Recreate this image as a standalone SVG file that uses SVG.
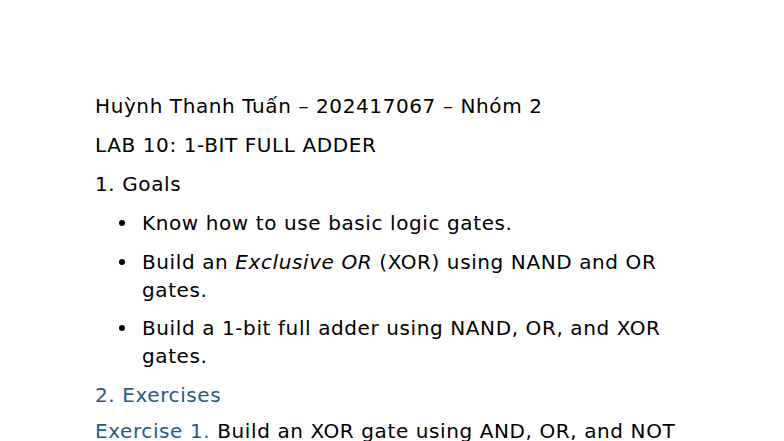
<svg xmlns="http://www.w3.org/2000/svg" width="784" height="441" viewBox="0 0 784 441">
<style>
text{font-family:"DejaVu Sans",sans-serif;font-size:20px;letter-spacing:0.6px;fill:#000}
.b{fill:#1f5a8a}
</style>
<rect width="784" height="441" fill="#fff"/>
<text x="95" y="113">Huỳnh Thanh Tuấn – 202417067 – Nhóm 2</text>
<text x="95" y="152">LAB 10: 1-BIT FULL ADDER</text>
<text x="95" y="191">1. Goals</text>
<g>
<circle cx="122" cy="223" r="3"/>
<text x="142" y="230">Know how to use basic logic gates.</text>
<circle cx="122" cy="262" r="3"/>
<text x="142" y="269">Build an <tspan font-style="italic">Exclusive OR</tspan> (XOR) using NAND and OR</text>
<text x="142" y="297">gates.</text>
<circle cx="122" cy="328" r="3"/>
<text x="142" y="335">Build a 1-bit full adder using NAND, OR, and XOR</text>
<text x="142" y="363">gates.</text>
</g>
<text x="95" y="402" class="b">2. Exercises</text>
<text x="95" y="438"><tspan class="b">Exercise 1.</tspan> Build an XOR gate using AND, OR, and NOT</text>
</svg>
